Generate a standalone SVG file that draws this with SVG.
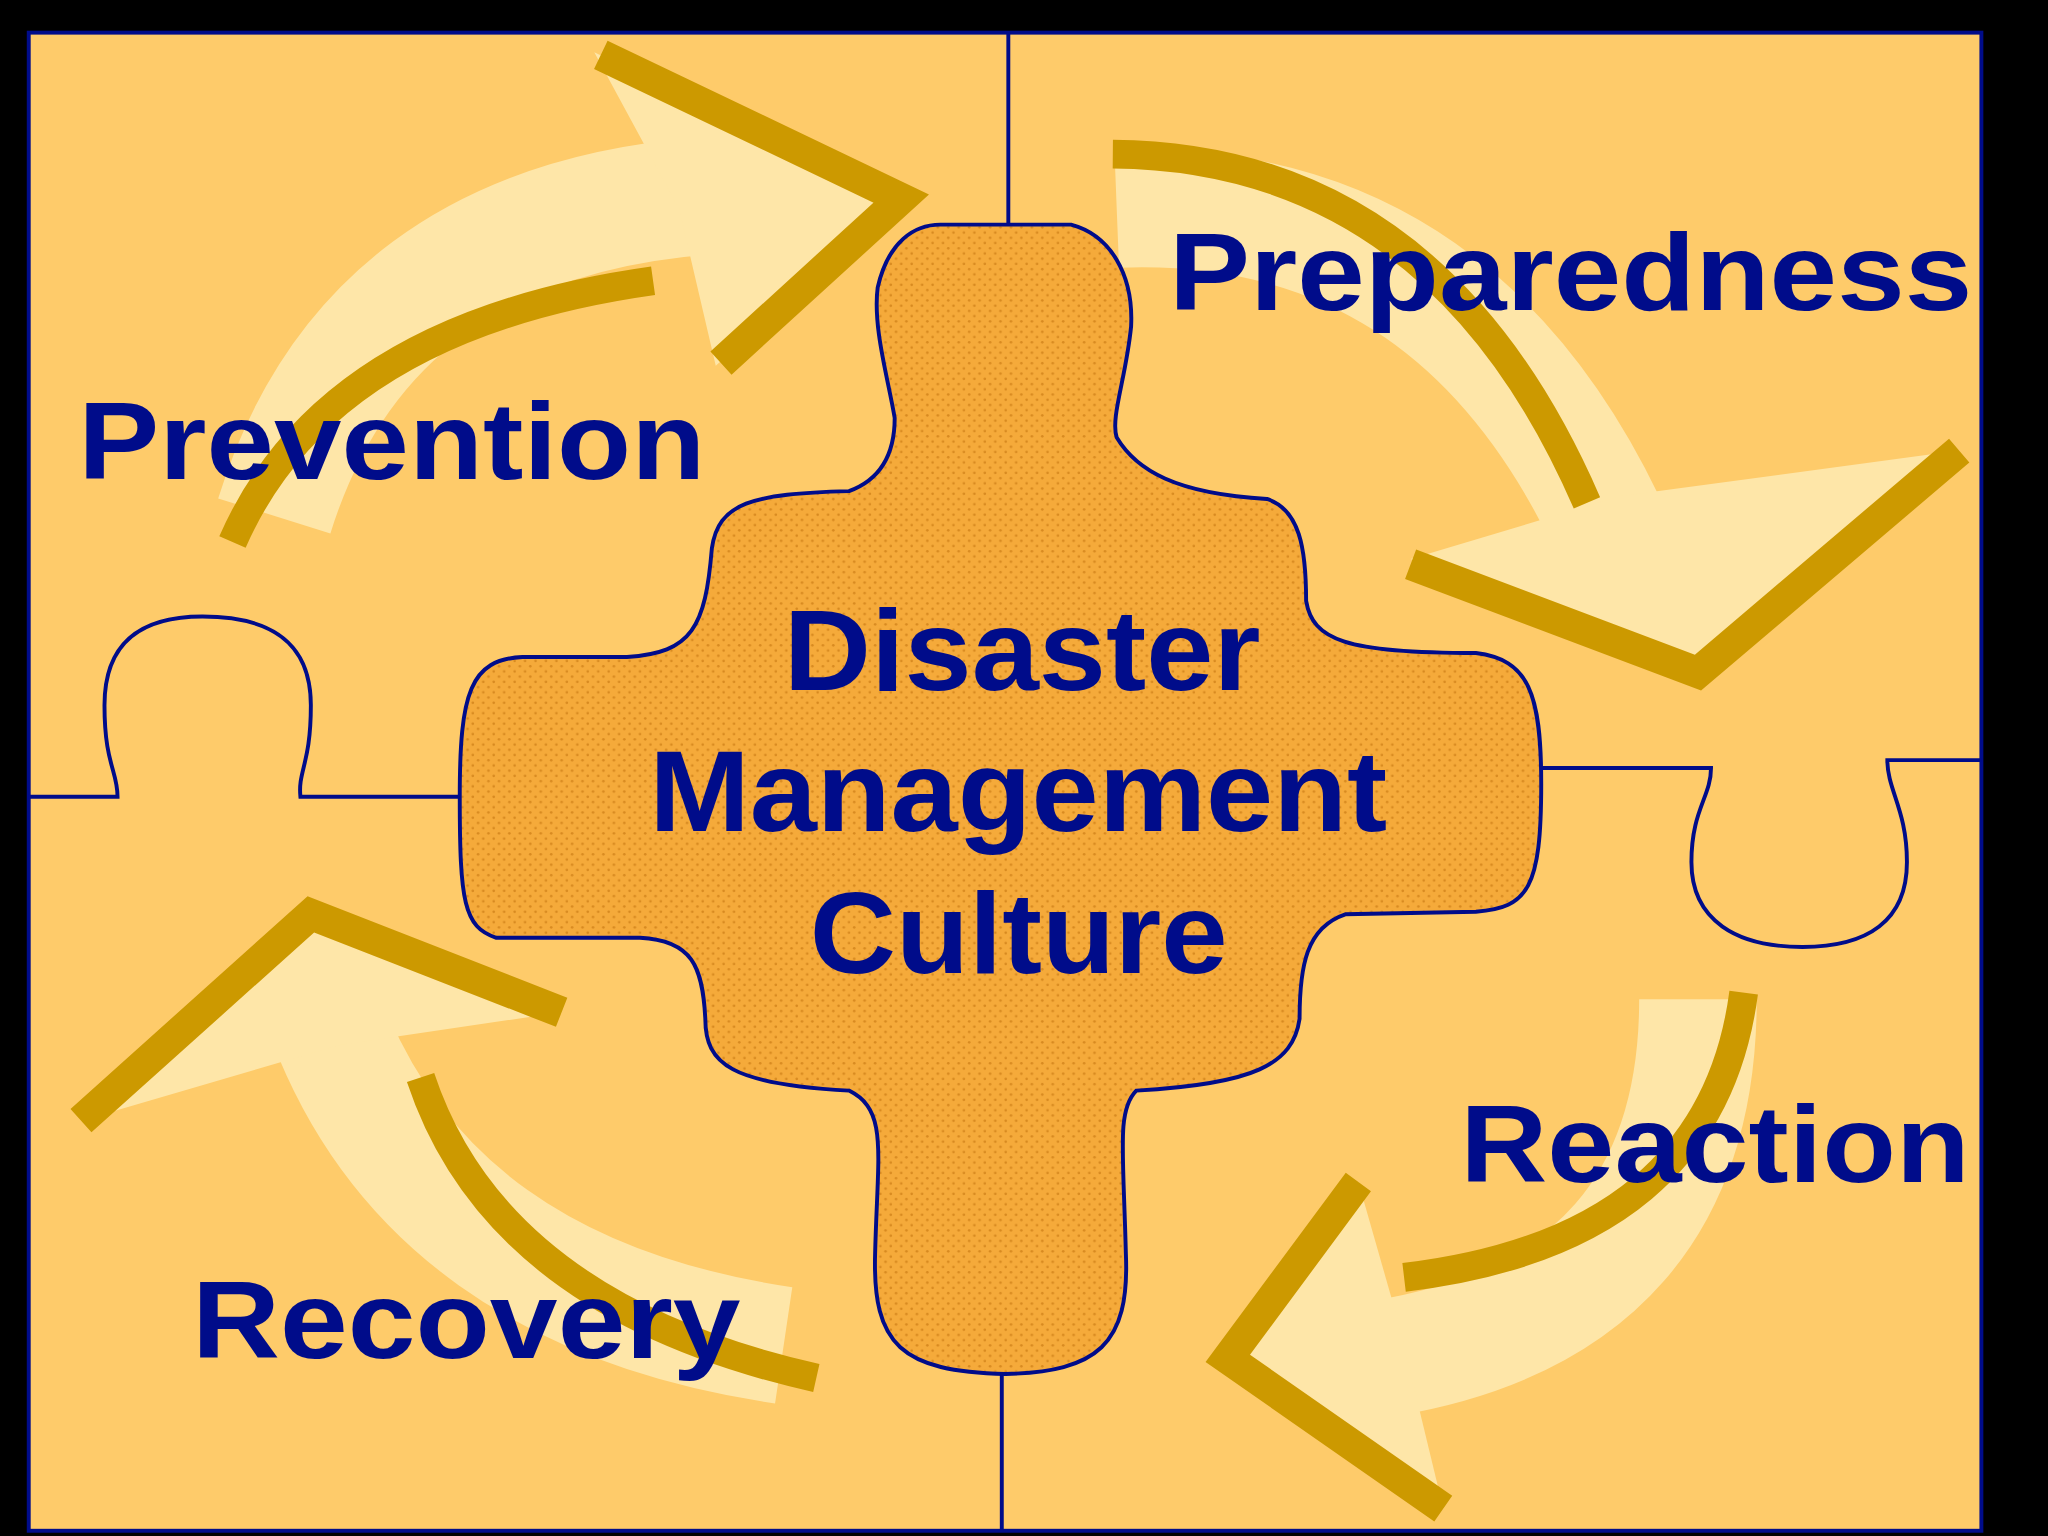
<svg xmlns="http://www.w3.org/2000/svg" width="2048" height="1536" viewBox="0 0 2048 1536">
<defs>
<style>
.ln{fill:none;stroke:#000c8a;stroke-width:3}
.lt{fill:none;stroke:#fee6a8;stroke-linecap:butt}
.dk{fill:none;stroke:#cc9900;stroke-width:22}
.hd{fill:#fee6a8;stroke:none}
.he{fill:none;stroke:#cc9900;stroke-width:24;stroke-linejoin:miter}
.t{font-family:"Liberation Sans",Arial,sans-serif;font-weight:bold;fill:#000c8a}
</style>
<pattern id="dots" width="8" height="8" patternUnits="userSpaceOnUse">
<rect width="8" height="8" fill="#f5aa3a"/>
<circle cx="2" cy="2" r="1" fill="#d88a20"/>
<circle cx="6" cy="6" r="1" fill="#d88a20"/>
</pattern>
</defs>
<rect width="2048" height="1536" fill="#000"/>
<g transform="scale(1.30612)">
<rect x="22" y="25" width="1495" height="1147" fill="#fecb6a" stroke="#000c8a" stroke-width="3"/>
<g id="arrows">
<path class="lt" stroke-width="90" d="M210,395 Q280,170 540,150"/>
<path class="dk" d="M178,415 Q250,250 500,215"/>
<polygon class="hd" points="455,40 690,152 548,280 520,160"/>
<polyline class="he" points="460,42 690,152 552,278"/>
<path class="lt" stroke-width="90" d="M855,160 Q1110,150 1230,400"/>
<path class="dk" d="M852,118 Q1100,120 1215,385"/>
<polygon class="hd" points="1080,428 1300,515 1500,345 1240,380"/>
<polyline class="he" points="1080,432 1300,515 1500,345"/>
<path class="lt" stroke-width="90" d="M1300,765 Q1300,1000 1060,1040"/>
<path class="dk" d="M1335,760 Q1310,950 1075,978"/>
<polygon class="hd" points="1040,905 940,1040 1105,1155 1070,1010"/>
<polyline class="he" points="1040,905 940,1040 1105,1155"/>
<path class="lt" stroke-width="90" d="M600,1030 Q330,990 250,780"/>
<path class="dk" d="M625,1055 Q380,1000 322,825"/>
<polygon class="hd" points="430,775 238,700 62,858 260,800"/>
<polyline class="he" points="430,775 238,700 62,858"/>
</g>
<g id="edges">
<path class="ln" d="M772,25 V172"/>
<path class="ln" d="M767,1052 V1172"/>
<path class="ln" d="M22,610 H90 C90,590 80,585 80,540 C80,490 110,472 155,472 C205,472 238,490 238,540 C238,585 228,590 230,610 H352"/>
<path class="ln" d="M1180,588 H1310 C1310,610 1295,620 1295,660 C1295,705 1330,725 1380,725 C1430,725 1460,705 1460,660 C1460,620 1445,605 1445,582 H1517"/>
</g>
<g id="center">
<path fill="url(#dots)" stroke="#000c8a" stroke-width="3" d="M720,172 L820,172 C850,180 868,210 866,250 C862,290 850,320 855,335 C870,360 900,378 970,382 C995,390 1000,420 1000,460 C1005,490 1030,500 1130,500 C1170,505 1180,530 1180,600 C1180,680 1170,695 1130,698 L1030,700 C1000,710 995,740 995,780 C990,815 960,830 870,835 C855,850 860,880 862,960 C865,1030 840,1050 770,1052 C690,1050 668,1030 670,960 C672,880 680,850 650,835 C560,830 540,815 540,780 C538,740 530,720 490,718 L380,718 C355,710 352,690 352,610 C352,530 360,505 400,503 L480,503 C530,500 540,480 545,420 C550,385 575,378 650,376 C680,365 685,340 685,320 C680,290 668,250 672,220 C680,185 700,172 720,172 Z"/>
<text class="t" x="600" y="528" font-size="88" textLength="365" lengthAdjust="spacingAndGlyphs">Disaster</text>
<text class="t" x="497" y="636" font-size="88" textLength="565" lengthAdjust="spacingAndGlyphs">Management</text>
<text class="t" x="620" y="745" font-size="88" textLength="320" lengthAdjust="spacingAndGlyphs">Culture</text>
</g>
<g id="labels">
<text class="t" x="895" y="237" font-size="84" textLength="615" lengthAdjust="spacingAndGlyphs">Preparedness</text>
<text class="t" x="60" y="367" font-size="84" textLength="480" lengthAdjust="spacingAndGlyphs">Prevention</text>
<text class="t" x="1118" y="905" font-size="84" textLength="390" lengthAdjust="spacingAndGlyphs">Reaction</text>
<text class="t" x="147" y="1040" font-size="84" textLength="420" lengthAdjust="spacingAndGlyphs">Recovery</text>
</g>
</g>
</svg>
